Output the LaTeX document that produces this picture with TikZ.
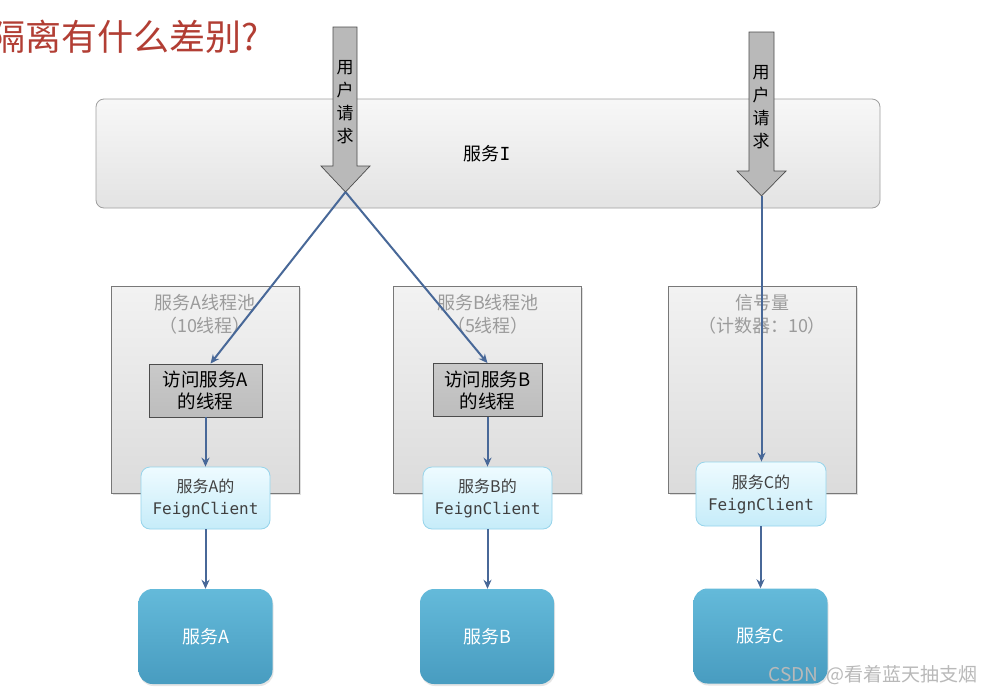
\documentclass[tikz,border=0pt]{standalone}
\usepackage{fontspec}
\setmainfont{Noto Sans CJK SC}
\newfontfamily\monofont{DejaVu Sans Mono}
\usetikzlibrary{arrows.meta,shadows}
\definecolor{titlered}{RGB}{178,62,52}
\definecolor{linecol}{RGB}{72,104,152}
\definecolor{pooltext}{RGB}{155,155,155}
\definecolor{poolborder}{RGB}{120,120,120}
\definecolor{svctop}{RGB}{100,186,218}
\definecolor{svcbot}{RGB}{72,156,192}
\definecolor{fctop}{RGB}{238,251,255}
\definecolor{fcbot}{RGB}{198,236,249}
\definecolor{fcborder}{RGB}{150,212,235}
\tikzset{
  fs/.style={font=\fontsize{#1}{#1}\selectfont},
  bigbox/.style={draw=gray!75, line width=0.8pt, rounded corners=8pt, top color=gray!6, bottom color=gray!22, minimum width=784pt, minimum height=109pt, inner sep=0pt},
  poolbox/.style={draw=poolborder, line width=0.8pt, top color=gray!10, bottom color=gray!28, minimum width=188pt, minimum height=207pt, inner sep=0pt, drop shadow={shadow xshift=1.5pt, shadow yshift=-1.5pt, opacity=0.25}},
  pooltxt/.style={text=pooltext, align=center, font=\fontsize{18}{23}\selectfont},
  threadbox/.style={draw=black!70, line width=0.8pt, top color=gray!42, bottom color=gray!52, minimum height=53pt, inner sep=0pt, align=center, font=\fontsize{18.5}{22}\selectfont},
  fcbox/.style={draw=fcborder, line width=0.8pt, rounded corners=9pt, top color=fctop, bottom color=fcbot, minimum width=129pt, minimum height=62pt, inner sep=0pt, align=center, text=black!75, font=\fontsize{16}{22}\selectfont},
  svcbox/.style={rounded corners=14pt, top color=svctop, bottom color=svcbot, minimum width=134pt, minimum height=95pt, inner sep=0pt, text=white, font=\fontsize{18}{18}\selectfont, drop shadow={shadow xshift=1pt, shadow yshift=-2pt, opacity=0.2}},
  bigarrow/.style={draw=gray!60!black, line width=0.7pt, fill=gray!55},
  vtext/.style={align=center, font=\fontsize{17}{23}\selectfont, inner sep=0pt},
  conn/.style={draw=linecol, line width=2pt, -{Stealth[length=9pt,width=8pt]}},
}
\begin{document}
\begin{tikzpicture}[x=1pt,y=-1pt]
\useasboundingbox (0,0) rectangle (994,694);
\fill[white] (0,0) rectangle (994,694);

% title (first character cut off by the page edge, as in the reference)
\node[anchor=west, inner sep=0pt, text=titlered, fs=36] (title) at (-11,37) {隔离有什么差别?};

% service I
\node[bigbox] (svcI) at (488,153.5) {};
\node[fs=18] (svcIlbl) at (487,154) {服务{\monofont I}};

% big request arrows
\path[bigarrow] (333,27) -- (357,27) -- (357,166) -- (370,166) -- (345.5,192) -- (321,166) -- (333,166) -- cycle;
\coordinate (tipL) at (345.5,192);
\node[vtext] (reqL) at (345,102) {用\\户\\请\\求};
\path[bigarrow] (749,32) -- (774,32) -- (774,171) -- (786,171) -- (761.5,196) -- (737,171) -- (749,171) -- cycle;
\coordinate (tipR) at (761.5,196);
\node[vtext] (reqR) at (761,107) {用\\户\\请\\求};

% pools
\node[poolbox] (poolA) at (205,389.5) {};
\node[poolbox] (poolB) at (487.5,389.5) {};
\node[poolbox] (poolC) at (762,389.5) {};
\node[pooltxt] (poolAt) at (205,314) {服务A线程池\\（10线程）};
\node[pooltxt] (poolBt) at (488,314) {服务B线程池\\（5线程）};
\node[pooltxt] (poolCt) at (762,314) {信号量\\（计数器：10）};

% thread boxes
\node[threadbox, minimum width=113pt] (thA) at (205.5,390.5) {访问服务A\\的线程};
\node[threadbox, minimum width=109pt] (thB) at (487.5,390) {访问服务B\\的线程};

% feign clients
\node[fcbox] (fcA) at (205.5,498) {服务A的\\{\monofont FeignClient}};
\node[fcbox] (fcB) at (487.5,498) {服务B的\\{\monofont FeignClient}};
\node[fcbox, minimum width=130pt, minimum height=64pt] (fcC) at (761,494) {服务C的\\{\monofont FeignClient}};

% services
\node[svcbox] (svcA) at (205.5,636.5) {服务A};
\node[svcbox] (svcB) at (487,636.5) {服务B};
\node[svcbox] (svcC) at (760.5,636) {服务C};

% connectors
\draw[conn] (tipL) -- ([xshift=5pt]thA.north);
\draw[conn] (tipL) -- (thB.north);
\draw[conn] (tipR) -- (tipR |- fcC.north);
\draw[conn] (thA.south) -- (fcA.north);
\draw[conn] (thB.south) -- (fcB.north);
\draw[conn] (fcA.south) -- (fcA.south |- svcA.north);
\draw[conn] (fcB.south) -- (fcB.south |- svcB.north);
\draw[conn] (fcC.south -| svcC.north) -- (svcC.north);

% watermark
\node[text=gray!55, fs=19, inner sep=0pt] (wm) at (873,675) {CSDN\ \ @看着蓝天抽支烟};
\end{tikzpicture}
\end{document}
